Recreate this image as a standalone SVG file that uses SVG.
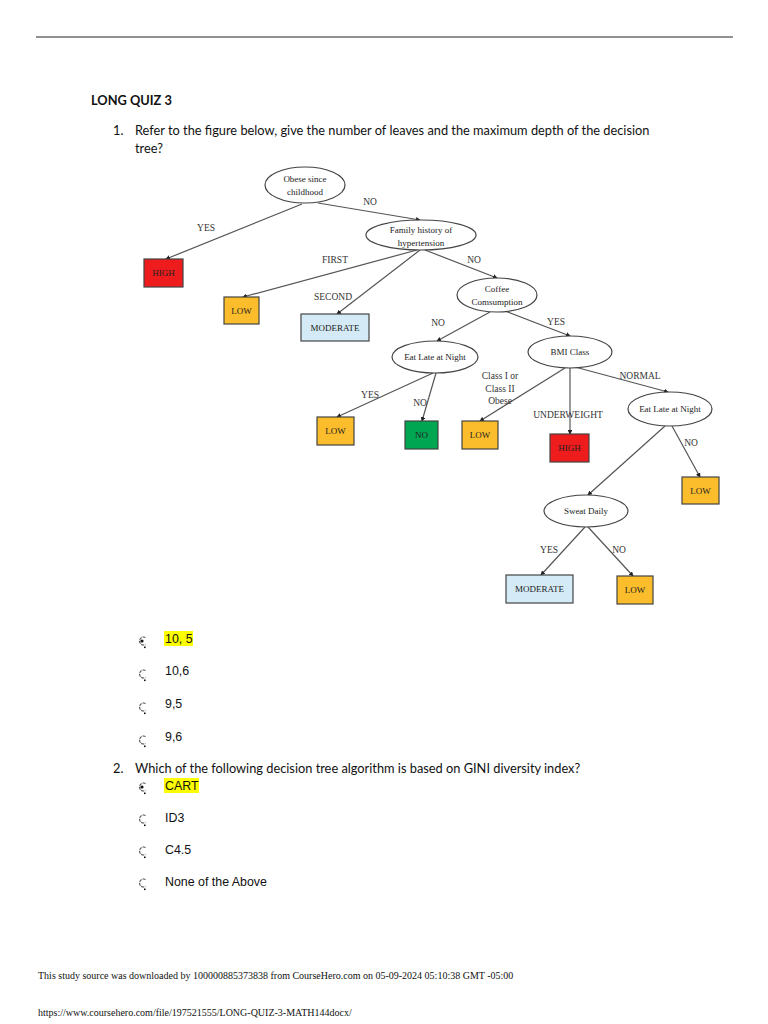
<svg xmlns="http://www.w3.org/2000/svg" width="768" height="1024" viewBox="0 0 768 1024">
<style>
.doc{font-family:Lato,"Liberation Sans",sans-serif;font-size:12.8px;fill:#111}
.opt{font-family:"Liberation Sans",Arial,sans-serif;font-size:12.4px;fill:#111}
.nt{font-family:"Liberation Serif","Times New Roman",serif;font-size:9px;fill:#222;text-anchor:middle}
.el{font-family:"Liberation Serif","Times New Roman",serif;font-size:9.5px;fill:#333;text-anchor:middle}
.ell{fill:#fff;stroke:#444;stroke-width:1.2}
.box{stroke:#444;stroke-width:1.2}
.edge{stroke:#555;stroke-width:1.2;fill:none;marker-end:url(#ah)}
.foot{font-family:"Liberation Serif","Times New Roman",serif;font-size:10px;fill:#111}
.radio{fill:none;stroke:#555;stroke-width:1.2;stroke-dasharray:3 1}
</style>
<defs>
<marker id="ah" viewBox="0 0 6 6" refX="5" refY="3" markerWidth="4" markerHeight="4" orient="auto">
<path d="M0,0 L6,3 L0,6 z" fill="#222"/>
</marker>
</defs>
<rect width="768" height="1024" fill="#fff"/>
<line x1="36" y1="37" x2="733" y2="37" stroke="#222" stroke-width="1"/>
<text x="91" y="105" class="doc" font-weight="bold" font-size="12">LONG QUIZ 3</text>
<text x="113" y="135" class="doc">1.</text>
<text x="135" y="135" class="doc">Refer to the figure below, give the number of leaves and the maximum depth of the decision</text>
<text x="135" y="153" class="doc">tree?</text>

<g id="connectors">
<line class="edge" x1="302" y1="204" x2="166" y2="259"/>
<line class="edge" x1="318" y1="203" x2="420" y2="220"/>
<line class="edge" x1="417" y1="250" x2="243" y2="297"/>
<line class="edge" x1="420" y1="250" x2="337" y2="314"/>
<line class="edge" x1="425" y1="250" x2="497" y2="278"/>
<line class="edge" x1="490" y1="312" x2="437" y2="341"/>
<line class="edge" x1="505" y1="311" x2="570" y2="336"/>
<line class="edge" x1="433" y1="373" x2="337" y2="417"/>
<line class="edge" x1="436" y1="373" x2="422" y2="421"/>
<line class="edge" x1="565" y1="368" x2="480" y2="421"/>
<line class="edge" x1="570" y1="368" x2="570" y2="434"/>
<line class="edge" x1="575" y1="367" x2="668" y2="392"/>
<line class="edge" x1="672" y1="426" x2="700" y2="477"/>
<line class="edge" x1="665" y1="426" x2="588" y2="495"/>
<line class="edge" x1="585" y1="527" x2="541" y2="575"/>
<line class="edge" x1="588" y1="527" x2="633" y2="576"/>
<text class="el" x="206" y="231">YES</text>
<text class="el" x="370" y="205">NO</text>
<text class="el" x="335" y="263">FIRST</text>
<text class="el" x="333" y="300">SECOND</text>
<text class="el" x="474" y="263">NO</text>
<text class="el" x="438" y="326">NO</text>
<text class="el" x="556" y="325">YES</text>
<text class="el" x="370" y="398">YES</text>
<text class="el" x="420" y="406">NO</text>
<text class="el" x="500" y="379">Class I or</text>
<text class="el" x="500" y="392">Class II</text>
<text class="el" x="500" y="404">Obese</text>
<text class="el" x="568" y="418">UNDERWEIGHT</text>
<text class="el" x="640" y="379">NORMAL</text>
<text class="el" x="691" y="446">NO</text>
<text class="el" x="549" y="553">YES</text>
<text class="el" x="619" y="553">NO</text>
</g>

<g id="n-root"><ellipse class="ell" cx="305" cy="185" rx="40" ry="18"/><text class="nt" x="305" y="182">Obese since</text><text class="nt" x="305" y="195">childhood</text></g>
<g id="n-high1"><rect class="box" x="144" y="259" width="39" height="28" fill="#ee1c1c"/><text class="nt" x="163.5" y="276">HIGH</text></g>
<g id="n-family"><ellipse class="ell" cx="421" cy="235" rx="55" ry="15"/><text class="nt" x="421" y="233">Family history of</text><text class="nt" x="421" y="246">hypertension</text></g>
<g id="n-low1"><rect class="box" x="224" y="297" width="35" height="27" fill="#fbbd2b"/><text class="nt" x="241.5" y="314">LOW</text></g>
<g id="n-mod1"><rect class="box" x="301" y="314" width="68" height="27" fill="#d4eaf6"/><text class="nt" x="335" y="331">MODERATE</text></g>
<g id="n-coffee"><ellipse class="ell" cx="497" cy="295" rx="40" ry="17"/><text class="nt" x="497" y="292">Coffee</text><text class="nt" x="497" y="305">Comsumption</text></g>
<g id="n-eat1"><ellipse class="ell" cx="435" cy="357" rx="43" ry="16"/><text class="nt" x="435" y="360">Eat Late at Night</text></g>
<g id="n-bmi"><ellipse class="ell" cx="570" cy="352" rx="42" ry="16"/><text class="nt" x="570" y="355">BMI Class</text></g>
<g id="n-low2"><rect class="box" x="317" y="417" width="37" height="28" fill="#fbbd2b"/><text class="nt" x="335.5" y="434">LOW</text></g>
<g id="n-no"><rect class="box" x="405" y="421" width="33" height="28" fill="#00a651"/><text class="nt" x="421.5" y="438">NO</text></g>
<g id="n-low3"><rect class="box" x="462" y="421" width="36" height="28" fill="#fbbd2b"/><text class="nt" x="480" y="438">LOW</text></g>
<g id="n-high2"><rect class="box" x="550" y="434" width="39" height="28" fill="#ee1c1c"/><text class="nt" x="569.5" y="451">HIGH</text></g>
<g id="n-eat2"><ellipse class="ell" cx="670" cy="409" rx="42" ry="17"/><text class="nt" x="670" y="412">Eat Late at Night</text></g>
<g id="n-low4"><rect class="box" x="682" y="477" width="37" height="27" fill="#fbbd2b"/><text class="nt" x="700.5" y="494">LOW</text></g>
<g id="n-sweat"><ellipse class="ell" cx="586" cy="511" rx="42" ry="16"/><text class="nt" x="586" y="514">Sweat Daily</text></g>
<g id="n-mod2"><rect class="box" x="506" y="575" width="67" height="28" fill="#d4eaf6"/><text class="nt" x="539.5" y="592">MODERATE</text></g>
<g id="n-low5"><rect class="box" x="617" y="576" width="36" height="28" fill="#fbbd2b"/><text class="nt" x="635" y="593">LOW</text></g>

<g id="q1-options">
<path class="radio" d="M145.5,637.5 A4,4 0 1 0 145.5,644.5"/><circle cx="142" cy="641" r="1.6" fill="#111"/><rect x="144" y="646.5" width="1.6" height="1.6" fill="#111"/>
<rect x="164" y="631" width="29" height="15" fill="#ffff00"/><text class="opt" x="165" y="643">10, 5</text>
<path class="radio" d="M145.5,670.5 A4,4 0 1 0 145.5,677.5"/><rect x="144" y="679.5" width="1.6" height="1.6" fill="#111"/>
<text class="opt" x="165" y="675">10,6</text>
<path class="radio" d="M145.5,703.5 A4,4 0 1 0 145.5,710.5"/><rect x="144" y="712.5" width="1.6" height="1.6" fill="#111"/>
<text class="opt" x="165" y="708">9,5</text>
<path class="radio" d="M145.5,736.5 A4,4 0 1 0 145.5,743.5"/><rect x="144" y="745.5" width="1.6" height="1.6" fill="#111"/>
<text class="opt" x="165" y="741">9,6</text>
</g>

<text x="113" y="773" class="doc">2.</text>
<text x="135" y="773" class="doc">Which of the following decision tree algorithm is based on GINI diversity index?</text>
<g id="q2-options">
<path class="radio" d="M145.5,783.5 A4,4 0 1 0 145.5,790.5"/><circle cx="142" cy="787" r="1.6" fill="#111"/><rect x="144" y="792.5" width="1.6" height="1.6" fill="#111"/>
<rect x="164" y="778" width="35" height="15" fill="#ffff00"/><text class="opt" x="165" y="790">CART</text>
<path class="radio" d="M145.5,815.5 A4,4 0 1 0 145.5,822.5"/><rect x="144" y="824.5" width="1.6" height="1.6" fill="#111"/>
<text class="opt" x="165" y="822">ID3</text>
<path class="radio" d="M145.5,847.5 A4,4 0 1 0 145.5,854.5"/><rect x="144" y="856.5" width="1.6" height="1.6" fill="#111"/>
<text class="opt" x="165" y="854">C4.5</text>
<path class="radio" d="M145.5,879.5 A4,4 0 1 0 145.5,886.5"/><rect x="144" y="888.5" width="1.6" height="1.6" fill="#111"/>
<text class="opt" x="165" y="886">None of the Above</text>
</g>

<text x="38" y="979" class="foot">This study source was downloaded by 100000885373838 from CourseHero.com on 05-09-2024 05:10:38 GMT -05:00</text>
<text x="38" y="1016" class="foot">https://www.coursehero.com/file/197521555/LONG-QUIZ-3-MATH144docx/</text>
</svg>
